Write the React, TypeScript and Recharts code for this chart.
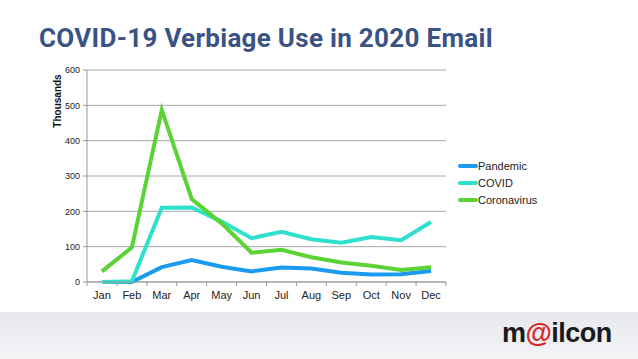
import React from 'react';
import { LineChart, Line, XAxis, YAxis, CartesianGrid } from 'recharts';

const months = ['Jan', 'Feb', 'Mar', 'Apr', 'May', 'Jun', 'Jul', 'Aug', 'Sep', 'Oct', 'Nov', 'Dec'];
const pandemic = [0, 0, 42, 62, 43, 30, 41, 38, 26, 21, 22, 31];
const covid = [0, 2, 210, 211, 171, 124, 142, 121, 111, 127, 118, 170];
const coronavirus = [30, 98, 487, 235, 166, 83, 91, 70, 55, 46, 34, 42];
const yTicks = [0, 100, 200, 300, 400, 500, 600];

const SERIES = [
  { key: 'Pandemic', color: '#1a9bef' },
  { key: 'COVID', color: '#2fe0cf' },
  { key: 'Coronavirus', color: '#5bd236' },
];

const FONT = 'Liberation Sans, Arial, sans-serif';
const BAND = 359 / 12;

const data = months.map((m, i) => ({
  month: m,
  Pandemic: pandemic[i],
  COVID: covid[i],
  Coronavirus: coronavirus[i],
}));

// category label plus the small separator ticks between months
const MonthTick = (props: any) => {
  const { x, y, payload, index, visibleTicksCount } = props;
  const axisY = y - 8;
  return (
    <g>
      <line x1={x - BAND / 2} x2={x - BAND / 2} y1={axisY} y2={axisY + 4} stroke="#999" />
      {index === visibleTicksCount - 1 && (
        <line x1={x + BAND / 2} x2={x + BAND / 2} y1={axisY} y2={axisY + 4} stroke="#999" />
      )}
      <text x={x} y={y + 9} textAnchor="middle" fontSize={11} fill="#222" fontFamily={FONT}>
        {payload.value}
      </text>
    </g>
  );
};

export default function App() {
  return (
    <div style={{ position: 'absolute', left: 0, top: 0, width: 638, height: 359, background: '#fff', overflow: 'hidden' }}>
      <div
        style={{
          position: 'absolute',
          left: 39,
          top: 23,
          fontFamily: 'Roboto, sans-serif',
          fontWeight: 700,
          fontSize: 26,
          color: '#3b5284',
          letterSpacing: 0.3,
          whiteSpace: 'nowrap',
        }}
      >
        COVID-19 Verbiage Use in 2020 Email
      </div>

      <div
        style={{
          position: 'absolute',
          left: 0,
          top: 312,
          width: 638,
          height: 47,
          background: 'linear-gradient(to bottom, #e6e8ec, #f3f4f6)',
        }}
      />
      <div
        style={{
          position: 'absolute',
          left: 502,
          top: 318,
          fontFamily: FONT,
          fontWeight: 700,
          fontSize: 27,
          color: '#1a1a1a',
          letterSpacing: -0.5,
        }}
      >
        m<span style={{ color: '#d8262c' }}>@</span>ilcon
      </div>

      <div
        style={{
          position: 'absolute',
          left: 57,
          top: 101,
          transform: 'translate(-50%, -50%) rotate(-90deg)',
          fontFamily: FONT,
          fontWeight: 700,
          fontSize: 10,
          color: '#111',
          whiteSpace: 'nowrap',
        }}
      >
        Thousands
      </div>

      <div style={{ position: 'absolute', left: 458, top: 157, fontFamily: FONT, fontSize: 11, color: '#222' }}>
        {SERIES.map((s) => (
          <div key={s.key} style={{ display: 'flex', alignItems: 'center', height: 17 }}>
            <span style={{ display: 'inline-block', width: 20, height: 4, background: s.color, borderRadius: 2 }} />
            <span>{s.key}</span>
          </div>
        ))}
      </div>

      <div style={{ position: 'absolute', left: 0, top: 0 }}>
        <LineChart width={638} height={359} data={data} margin={{ top: 70, right: 192, bottom: 57, left: 57 }}>
          <CartesianGrid vertical={false} stroke="#a8a8a8" strokeWidth={1} />
          <XAxis
            dataKey="month"
            height={20}
            stroke="#999"
            tickLine={false}
            padding={{ left: BAND / 2, right: BAND / 2 }}
            tick={<MonthTick />}
            interval={0}
          />
          <YAxis
            width={30}
            domain={[0, 600]}
            ticks={yTicks}
            stroke="#999"
            tickSize={4}
            tickMargin={3}
            tick={{ fontSize: 9, fill: '#222', fontFamily: FONT }}
          />
          {SERIES.map((s) => (
            <Line
              key={s.key}
              type="linear"
              dataKey={s.key}
              stroke={s.color}
              strokeWidth={4}
              dot={false}
              isAnimationActive={false}
            />
          ))}
        </LineChart>
      </div>
    </div>
  );
}
